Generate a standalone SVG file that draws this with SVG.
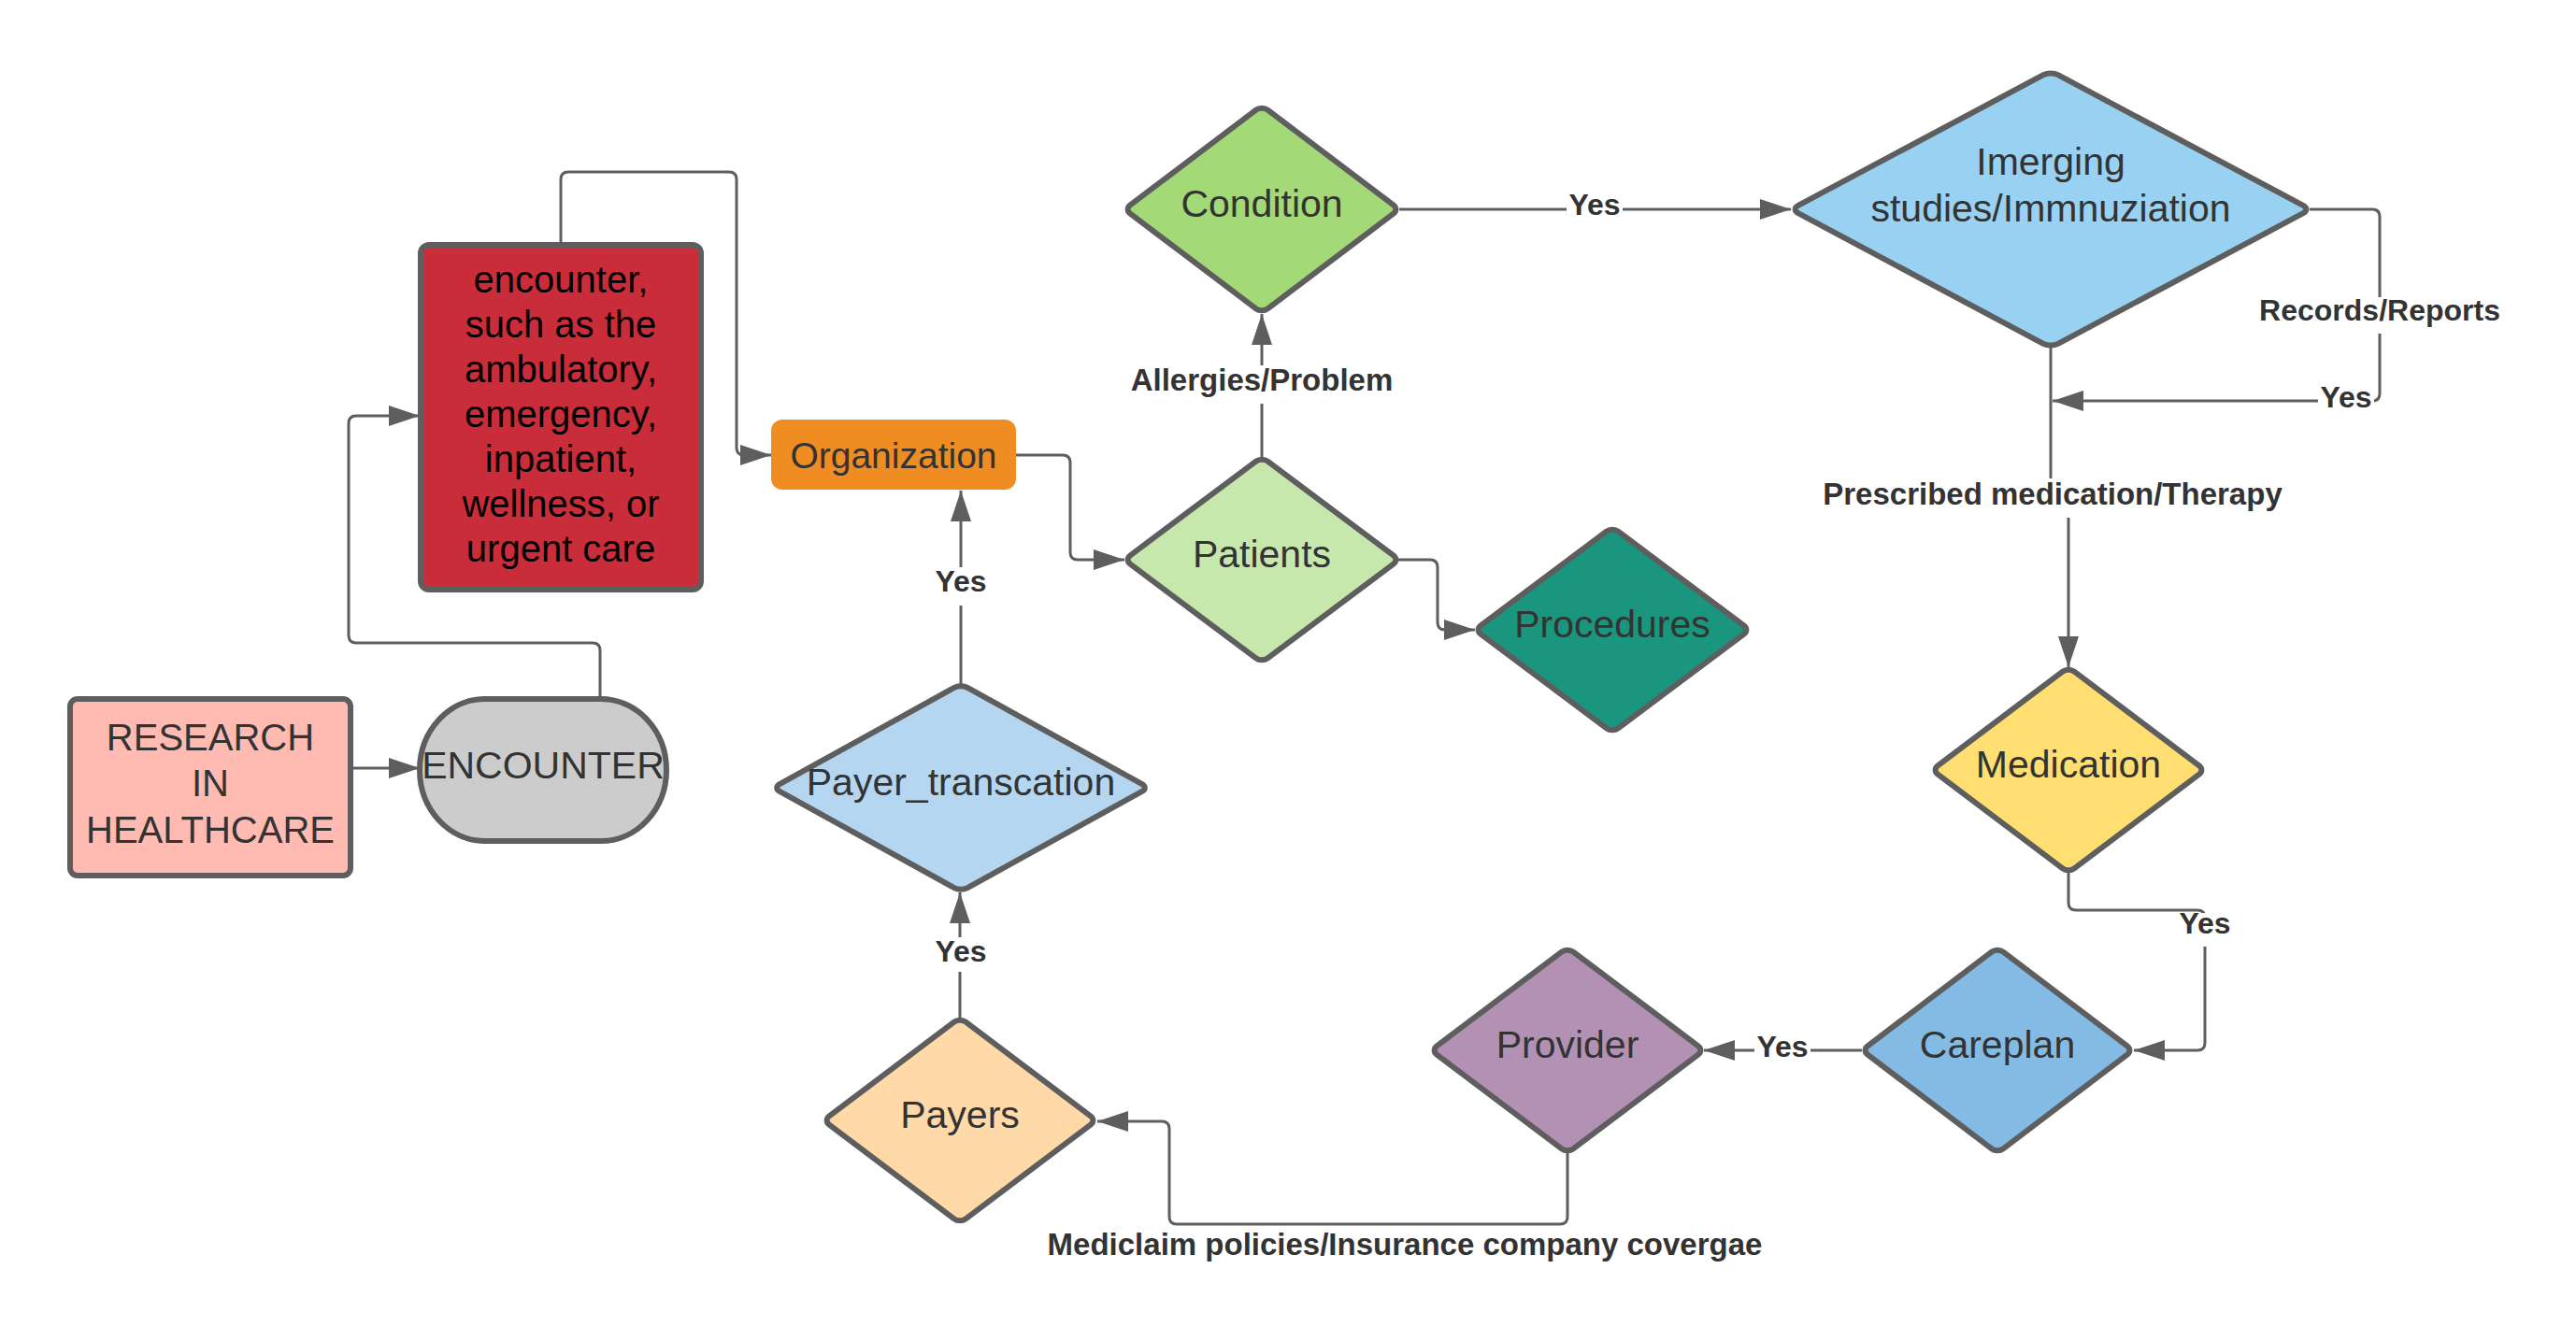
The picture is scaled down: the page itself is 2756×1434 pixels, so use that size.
<svg xmlns="http://www.w3.org/2000/svg" width="2756" height="1434" viewBox="0 0 2756 1434">
<defs>
<style>
.box{stroke:#5E5E5E;stroke-width:6}
.dia{stroke:#5E5E5E;stroke-width:6}
.t{font-family:"Liberation Sans",Arial,sans-serif;font-size:41px;fill:#333333;text-anchor:middle}
.lbl{font-family:"Liberation Sans",Arial,sans-serif;font-weight:bold;font-size:33px;fill:#333333;text-anchor:middle}
.conn{fill:none;stroke:#5E5E5E;stroke-width:3;marker-end:url(#arr)}
.bg{fill:#FFFFFF}
</style>
<marker id="arr" markerUnits="userSpaceOnUse" markerWidth="34" markerHeight="24" refX="33" refY="11" orient="auto">
<path d="M0,0 L33,11 L0,22 Z" fill="#5E5E5E"/>
</marker>
</defs>
<rect width="2756" height="1434" fill="#FFFFFF"/>

<g id="connectors">
<path class="conn" d="M375,822 H449"/>
<path class="conn" d="M642,748 V696 Q642,688 634,688 H381 Q373,688 373,680 V453 Q373,445 381,445 H449"/>
<path class="conn" d="M600,260 V192 Q600,184 608,184 H780 Q788,184 788,192 V479 Q788,487 796,487 H825"/>
<path class="conn" d="M1087,487 H1137 Q1145,487 1145,495 V591 Q1145,599 1153,599 H1203"/>
<path class="conn" d="M1350,489 V336"/>
<path class="conn" d="M1496,599 H1530 Q1538,599 1538,607 V666 Q1538,674 1546,674 H1578"/>
<path class="conn" d="M1497,224 H1916"/>
<path class="conn" d="M2471,224 H2538 Q2546,224 2546,232 V421 Q2546,429 2538,429 H2196"/>
<path class="conn" d="M2194,372 V533 H2213 V714"/>
<path class="conn" d="M2213,933 V966 Q2213,974 2221,974 H2351 Q2359,974 2359,982 V1116 Q2359,1124 2351,1124 H2283"/>
<path class="conn" d="M1992,1124 H1823"/>
<path class="conn" d="M1677,1234 V1302 Q1677,1310 1669,1310 H1259 Q1251,1310 1251,1302 V1208 Q1251,1200 1243,1200 H1174"/>
<path class="conn" d="M1027,1090 V955"/>
<path class="conn" d="M1028,732 V525"/>

<rect class="bg" x="1205" y="391" width="290" height="41"/>
<text class="lbl" x="1350" y="418">Allergies/Problem</text>
<rect class="bg" x="1676" y="205" width="60" height="35"/>
<text class="lbl" x="1706" y="230" style="font-size:32px">Yes</text>
<rect class="bg" x="2406" y="318" width="280" height="39"/>
<text class="lbl" x="2546" y="343" style="font-size:32px">Records/Reports</text>
<rect class="bg" x="2480" y="412" width="60" height="35"/>
<text class="lbl" x="2510" y="436" style="font-size:32px">Yes</text>
<rect class="bg" x="1945" y="512" width="502" height="42"/>
<text class="lbl" x="2196" y="540">Prescribed medication/Therapy</text>
<rect class="bg" x="2329" y="977" width="60" height="36"/>
<text class="lbl" x="2359" y="999" style="font-size:32px">Yes</text>
<rect class="bg" x="1877" y="1106" width="60" height="35"/>
<text class="lbl" x="1907" y="1131" style="font-size:32px">Yes</text>
<rect class="bg" x="998" y="1003" width="60" height="37"/>
<text class="lbl" x="1028" y="1029" style="font-size:32px">Yes</text>
<rect class="bg" x="998" y="607" width="60" height="41"/>
<text class="lbl" x="1028" y="633" style="font-size:32px">Yes</text>
<text class="lbl" x="1503" y="1343">Mediclaim policies/Insurance company covergae</text>
</g>

<g id="research">
<rect class="box" x="75" y="748" width="300" height="189" rx="8" fill="#FFBBB1"/>
<text class="t" style="font-size:40px" x="225" y="803">RESEARCH</text>
<text class="t" style="font-size:40px" x="225" y="852">IN</text>
<text class="t" style="font-size:40px" x="225" y="902">HEALTHCARE</text>
</g>

<g id="encounter">
<rect class="box" x="449" y="748" width="264" height="152" rx="70" ry="76" fill="#CCCCCC"/>
<text class="t" x="581" y="833">ENCOUNTER</text>
</g>

<g id="encounter-types">
<rect class="box" x="450" y="262" width="300" height="369" rx="9" fill="#C92D39"/>
<text class="t" style="font-size:40px;fill:#000000" x="600" y="313">encounter,</text>
<text class="t" style="font-size:40px;fill:#000000" x="600" y="361">such as the</text>
<text class="t" style="font-size:40px;fill:#000000" x="600" y="409">ambulatory,</text>
<text class="t" style="font-size:40px;fill:#000000" x="600" y="457">emergency,</text>
<text class="t" style="font-size:40px;fill:#000000" x="600" y="505">inpatient,</text>
<text class="t" style="font-size:40px;fill:#000000" x="600" y="553">wellness, or</text>
<text class="t" style="font-size:40px;fill:#000000" x="600" y="601">urgent care</text>
</g>

<g id="organization">
<rect x="825" y="449" width="262" height="75" rx="12" fill="#EF8D22"/>
<text class="t" style="font-size:39px" x="956" y="501">Organization</text>
</g>

<g id="condition">
<rect class="dia" x="-0.7071" y="-0.7071" width="1.4142" height="1.4142" rx="0.06" vector-effect="non-scaling-stroke" transform="translate(1350,224) scale(147,111) rotate(45)" fill="#A3D977"/>
<text class="t" x="1350" y="232">Condition</text>
</g>

<g id="imerging">
<rect class="dia" x="-0.7071" y="-0.7071" width="1.4142" height="1.4142" rx="0.04" vector-effect="non-scaling-stroke" transform="translate(2194,224) scale(278,148) rotate(45)" fill="#99D1F2"/>
<text class="t" x="2194" y="187">Imerging</text>
<text class="t" x="2194" y="237">studies/Immnuziation</text>
</g>

<g id="patients">
<rect class="dia" x="-0.7071" y="-0.7071" width="1.4142" height="1.4142" rx="0.06" vector-effect="non-scaling-stroke" transform="translate(1350,599) scale(147,110) rotate(45)" fill="#C7E8AC"/>
<text class="t" x="1350" y="607">Patients</text>
</g>

<g id="procedures">
<rect class="dia" x="-0.7071" y="-0.7071" width="1.4142" height="1.4142" rx="0.06" vector-effect="non-scaling-stroke" transform="translate(1725,674) scale(147,110) rotate(45)" fill="#19967D"/>
<text class="t" x="1725" y="682">Procedures</text>
</g>

<g id="payer-transcation">
<rect class="dia" x="-0.7071" y="-0.7071" width="1.4142" height="1.4142" rx="0.05" vector-effect="non-scaling-stroke" transform="translate(1028,843) scale(201,111) rotate(45)" fill="#B4D6F0"/>
<text class="t" x="1028" y="851">Payer_transcation</text>
</g>

<g id="medication">
<rect class="dia" x="-0.7071" y="-0.7071" width="1.4142" height="1.4142" rx="0.06" vector-effect="non-scaling-stroke" transform="translate(2213,824) scale(146,110) rotate(45)" fill="#FFDF71"/>
<text class="t" x="2213" y="832">Medication</text>
</g>

<g id="careplan">
<rect class="dia" x="-0.7071" y="-0.7071" width="1.4142" height="1.4142" rx="0.06" vector-effect="non-scaling-stroke" transform="translate(2137,1124) scale(145,110) rotate(45)" fill="#83BBE5"/>
<text class="t" x="2137" y="1132">Careplan</text>
</g>

<g id="provider">
<rect class="dia" x="-0.7071" y="-0.7071" width="1.4142" height="1.4142" rx="0.06" vector-effect="non-scaling-stroke" transform="translate(1677,1124) scale(146,110) rotate(45)" fill="#B391B5"/>
<text class="t" x="1677" y="1132">Provider</text>
</g>

<g id="payers">
<rect class="dia" x="-0.7071" y="-0.7071" width="1.4142" height="1.4142" rx="0.06" vector-effect="non-scaling-stroke" transform="translate(1027,1199) scale(146,110) rotate(45)" fill="#FFD9A8"/>
<text class="t" x="1027" y="1207">Payers</text>
</g>
</svg>
